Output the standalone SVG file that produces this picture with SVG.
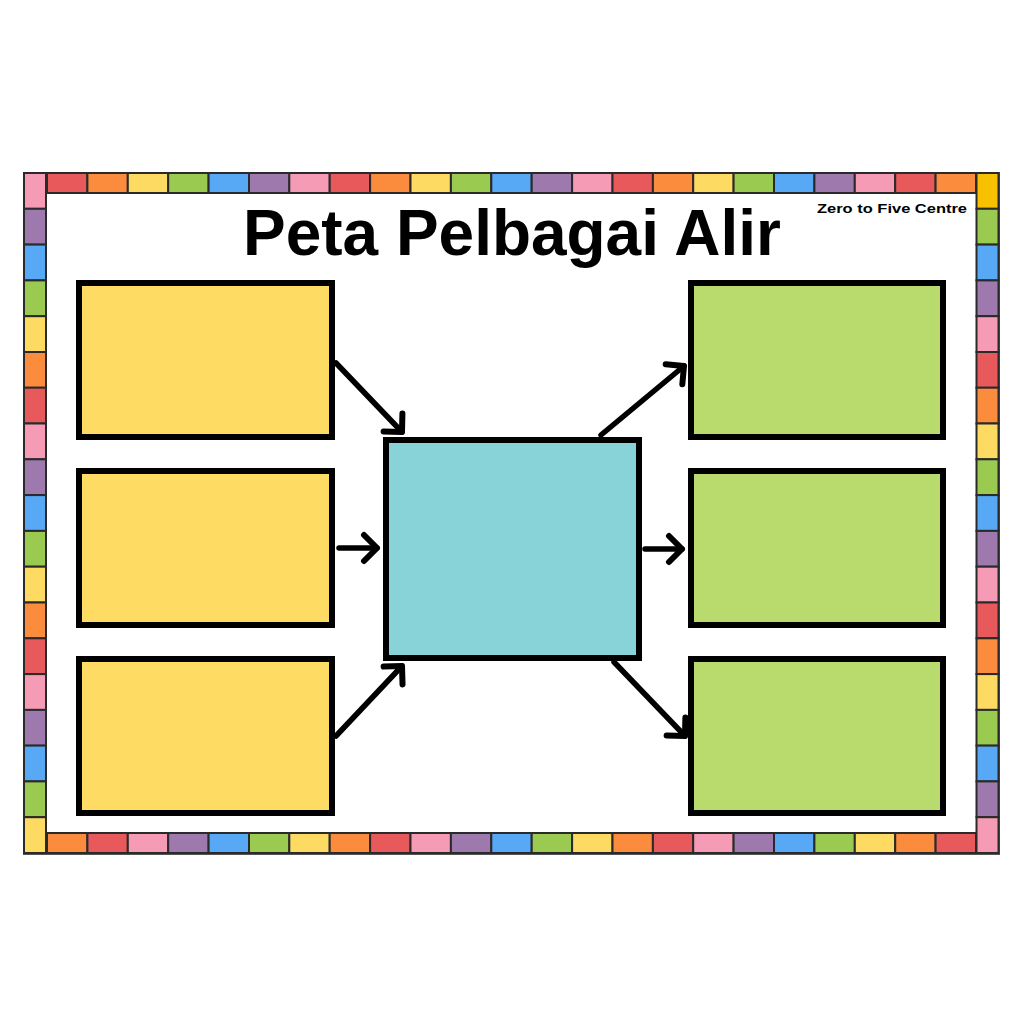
<svg xmlns="http://www.w3.org/2000/svg" width="1024" height="1024" viewBox="0 0 1024 1024">
<defs>
<style>
.t{stroke:#2a2a2a;stroke-width:2}
.r{fill:#E8595B}.o{fill:#FB8B3D}.y{fill:#FDDA62}.g{fill:#9ACB50}.b{fill:#57A9F6}.p{fill:#9D79AE}.k{fill:#F59BB5}.gd{fill:#F7C100}
.box{stroke:#000;stroke-width:6}
.yl{fill:#FEDC64}.gr{fill:#B9DB6E}.cy{fill:#88D3D8}
.arr{stroke:#000;stroke-width:5.5;stroke-linecap:round;fill:none}
.title{font-family:"Liberation Sans","DejaVu Sans",sans-serif;font-weight:bold;fill:#000}
</style>
<marker id="ah" markerUnits="userSpaceOnUse" markerWidth="34" markerHeight="34" viewBox="-17 -17 34 34" refX="0" refY="0" orient="auto">
<path d="M-13,-13 L0,0 L-13,13" fill="none" stroke="#000" stroke-width="6" stroke-linecap="round" stroke-linejoin="round"/>
</marker>
</defs>
<rect width="1024" height="1024" fill="#fff"/>
<g id="frame">
<rect x="24" y="173" width="975" height="681" fill="#fff" stroke="#555" stroke-width="2"/>
<g id="top-row" class="t">
<rect class="r" x="47" y="173" width="40.4" height="20"/>
<rect class="o" x="87.4" y="173" width="40.4" height="20"/>
<rect class="y" x="127.8" y="173" width="40.4" height="20"/>
<rect class="g" x="168.2" y="173" width="40.4" height="20"/>
<rect class="b" x="208.6" y="173" width="40.4" height="20"/>
<rect class="p" x="249" y="173" width="40.4" height="20"/>
<rect class="k" x="289.3" y="173" width="40.4" height="20"/>
<rect class="r" x="329.7" y="173" width="40.4" height="20"/>
<rect class="o" x="370.1" y="173" width="40.4" height="20"/>
<rect class="y" x="410.5" y="173" width="40.4" height="20"/>
<rect class="g" x="450.9" y="173" width="40.4" height="20"/>
<rect class="b" x="491.3" y="173" width="40.4" height="20"/>
<rect class="p" x="531.7" y="173" width="40.4" height="20"/>
<rect class="k" x="572.1" y="173" width="40.4" height="20"/>
<rect class="r" x="612.5" y="173" width="40.4" height="20"/>
<rect class="o" x="652.9" y="173" width="40.4" height="20"/>
<rect class="y" x="693.2" y="173" width="40.4" height="20"/>
<rect class="g" x="733.6" y="173" width="40.4" height="20"/>
<rect class="b" x="774" y="173" width="40.4" height="20"/>
<rect class="p" x="814.4" y="173" width="40.4" height="20"/>
<rect class="k" x="854.8" y="173" width="40.4" height="20"/>
<rect class="r" x="895.2" y="173" width="40.4" height="20"/>
<rect class="o" x="935.6" y="173" width="40.4" height="20"/>
</g>
<g id="bottom-row" class="t">
<rect class="o" x="47" y="833" width="40.4" height="20"/>
<rect class="r" x="87.4" y="833" width="40.4" height="20"/>
<rect class="k" x="127.8" y="833" width="40.4" height="20"/>
<rect class="p" x="168.2" y="833" width="40.4" height="20"/>
<rect class="b" x="208.6" y="833" width="40.4" height="20"/>
<rect class="g" x="249" y="833" width="40.4" height="20"/>
<rect class="y" x="289.3" y="833" width="40.4" height="20"/>
<rect class="o" x="329.7" y="833" width="40.4" height="20"/>
<rect class="r" x="370.1" y="833" width="40.4" height="20"/>
<rect class="k" x="410.5" y="833" width="40.4" height="20"/>
<rect class="p" x="450.9" y="833" width="40.4" height="20"/>
<rect class="b" x="491.3" y="833" width="40.4" height="20"/>
<rect class="g" x="531.7" y="833" width="40.4" height="20"/>
<rect class="y" x="572.1" y="833" width="40.4" height="20"/>
<rect class="o" x="612.5" y="833" width="40.4" height="20"/>
<rect class="r" x="652.9" y="833" width="40.4" height="20"/>
<rect class="k" x="693.2" y="833" width="40.4" height="20"/>
<rect class="p" x="733.6" y="833" width="40.4" height="20"/>
<rect class="b" x="774" y="833" width="40.4" height="20"/>
<rect class="g" x="814.4" y="833" width="40.4" height="20"/>
<rect class="y" x="854.8" y="833" width="40.4" height="20"/>
<rect class="o" x="895.2" y="833" width="40.4" height="20"/>
<rect class="r" x="935.6" y="833" width="40.4" height="20"/>
</g>
<g id="left-col" class="t">
<rect class="k" x="24" y="173" width="22" height="35.8"/>
<rect class="p" x="24" y="208.8" width="22" height="35.8"/>
<rect class="b" x="24" y="244.6" width="22" height="35.8"/>
<rect class="g" x="24" y="280.4" width="22" height="35.8"/>
<rect class="y" x="24" y="316.2" width="22" height="35.8"/>
<rect class="o" x="24" y="352" width="22" height="35.8"/>
<rect class="r" x="24" y="387.7" width="22" height="35.8"/>
<rect class="k" x="24" y="423.5" width="22" height="35.8"/>
<rect class="p" x="24" y="459.3" width="22" height="35.8"/>
<rect class="b" x="24" y="495.1" width="22" height="35.8"/>
<rect class="g" x="24" y="530.9" width="22" height="35.8"/>
<rect class="y" x="24" y="566.7" width="22" height="35.8"/>
<rect class="o" x="24" y="602.5" width="22" height="35.8"/>
<rect class="r" x="24" y="638.3" width="22" height="35.8"/>
<rect class="k" x="24" y="674.1" width="22" height="35.8"/>
<rect class="p" x="24" y="709.9" width="22" height="35.8"/>
<rect class="b" x="24" y="745.6" width="22" height="35.8"/>
<rect class="g" x="24" y="781.4" width="22" height="35.8"/>
<rect class="y" x="24" y="817.2" width="22" height="35.8"/>
</g>
<g id="right-col" class="t">
<rect class="gd" x="976.5" y="173" width="22" height="35.8"/>
<rect class="g" x="976.5" y="208.8" width="22" height="35.8"/>
<rect class="b" x="976.5" y="244.6" width="22" height="35.8"/>
<rect class="p" x="976.5" y="280.4" width="22" height="35.8"/>
<rect class="k" x="976.5" y="316.2" width="22" height="35.8"/>
<rect class="r" x="976.5" y="352" width="22" height="35.8"/>
<rect class="o" x="976.5" y="387.7" width="22" height="35.8"/>
<rect class="y" x="976.5" y="423.5" width="22" height="35.8"/>
<rect class="g" x="976.5" y="459.3" width="22" height="35.8"/>
<rect class="b" x="976.5" y="495.1" width="22" height="35.8"/>
<rect class="p" x="976.5" y="530.9" width="22" height="35.8"/>
<rect class="k" x="976.5" y="566.7" width="22" height="35.8"/>
<rect class="r" x="976.5" y="602.5" width="22" height="35.8"/>
<rect class="o" x="976.5" y="638.3" width="22" height="35.8"/>
<rect class="y" x="976.5" y="674.1" width="22" height="35.8"/>
<rect class="g" x="976.5" y="709.9" width="22" height="35.8"/>
<rect class="b" x="976.5" y="745.6" width="22" height="35.8"/>
<rect class="p" x="976.5" y="781.4" width="22" height="35.8"/>
<rect class="k" x="976.5" y="817.2" width="22" height="35.8"/>
</g>
</g>
<g id="title">
<text class="title" x="512" y="255" font-size="64" text-anchor="middle" textLength="538" lengthAdjust="spacingAndGlyphs">Peta Pelbagai Alir</text>
</g>
<g id="credit">
<text class="title" x="817" y="213" font-size="12.5" textLength="150" lengthAdjust="spacingAndGlyphs">Zero to Five Centre</text>
</g>
<g id="left-box-1"><rect class="box yl" x="79" y="283" width="253" height="154"/></g>
<g id="left-box-2"><rect class="box yl" x="79" y="471" width="253" height="154"/></g>
<g id="left-box-3"><rect class="box yl" x="79" y="659" width="253" height="154"/></g>
<g id="center-box"><rect class="box cy" x="386" y="440" width="253" height="218"/></g>
<g id="right-box-1"><rect class="box gr" x="691" y="283" width="252" height="154"/></g>
<g id="right-box-2"><rect class="box gr" x="691" y="471" width="252" height="154"/></g>
<g id="right-box-3"><rect class="box gr" x="691" y="659" width="252" height="154"/></g>
<g id="connectors" class="arr">
<line x1="336" y1="363" x2="402" y2="432" marker-end="url(#ah)"/>
<line x1="339" y1="548" x2="377" y2="548" marker-end="url(#ah)"/>
<line x1="336" y1="736" x2="402" y2="666" marker-end="url(#ah)"/>
<line x1="601" y1="435" x2="684" y2="366" marker-end="url(#ah)"/>
<line x1="645" y1="549" x2="682" y2="549" marker-end="url(#ah)"/>
<line x1="614" y1="662" x2="685" y2="736" marker-end="url(#ah)"/>
</g>
</svg>
